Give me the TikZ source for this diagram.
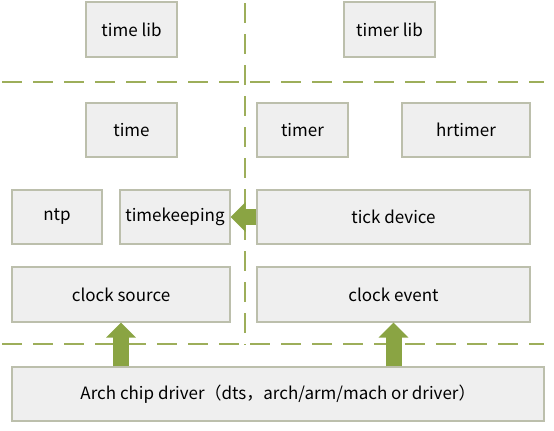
\documentclass[tikz,border=0pt]{standalone}
\usepackage{fontspec}
\setmainfont{Noto Sans CJK SC}
\definecolor{boxLine}{HTML}{BCBFAC}
\definecolor{boxFill}{HTML}{EFEFEF}
\definecolor{sepGreen}{HTML}{9DAE5A}
\definecolor{arrGreen}{HTML}{8AA443}
\usetikzlibrary{positioning,arrows.meta,calc}

\begin{document}
\begin{tikzpicture}[x=1bp,y=-1bp,font=\fontsize{17bp}{19bp}\selectfont,
  blk/.style={draw=boxLine, line width=1.2bp, fill=boxFill, inner sep=0pt},
  sep/.style={draw=sepGreen, line width=1.8bp, dash pattern=on 20bp off 11bp},
  bigarr/.style={draw=arrGreen!80!white, line width=16bp, arrGreen,
    -{Triangle[width=29bp,length=15bp]}}]
\useasboundingbox (0,0) rectangle (554,430);
% separators
\draw[sep] (2,82) -- (544,82);
\draw[sep] (2,344) -- (544,344);
\draw[sep] (245,3) -- (245,345);
% libraries
\node[blk, minimum width=91bp, minimum height=55bp] (tlib) at (131.5,29.5) {time lib};
\node[blk, minimum width=91bp, minimum height=55bp] (trlib) at (389.5,29.5) {timer lib};
% core
\node[blk, minimum width=91bp, minimum height=54bp] (time) at (131.5,130) {time};
\node[blk, minimum width=91bp, minimum height=54bp] (timer) at (302.5,130) {timer};
\node[blk, minimum width=128bp, minimum height=54bp] (hrt) at (466,130) {hrtimer};
\node[blk, minimum width=90bp, minimum height=54bp] (ntp) at (57,217) {ntp};
\node[blk, minimum width=110bp, minimum height=54bp] (tk) at (175,217) {timekeeping};
\node[blk, minimum width=273bp, minimum height=54bp] (tick) at (393.5,217) {tick device};
\node[blk, minimum width=218bp, minimum height=55bp] (cs) at (121,294.5) {clock source};
\node[blk, minimum width=273bp, minimum height=55bp] (ce) at (393.5,294.5) {clock event};
% driver
\node[blk, minimum width=532bp, minimum height=54bp] (drv) at (278,394) {Arch chip driver（dts，arch/arm/mach or driver）};
% arrows
\draw[bigarr] (drv.north -| cs.south) -- (cs.south);
\draw[bigarr] (drv.north -| ce.south) -- (ce.south);
\draw[bigarr] (tick.west) -- (tk.east);
\end{tikzpicture}
\end{document}
